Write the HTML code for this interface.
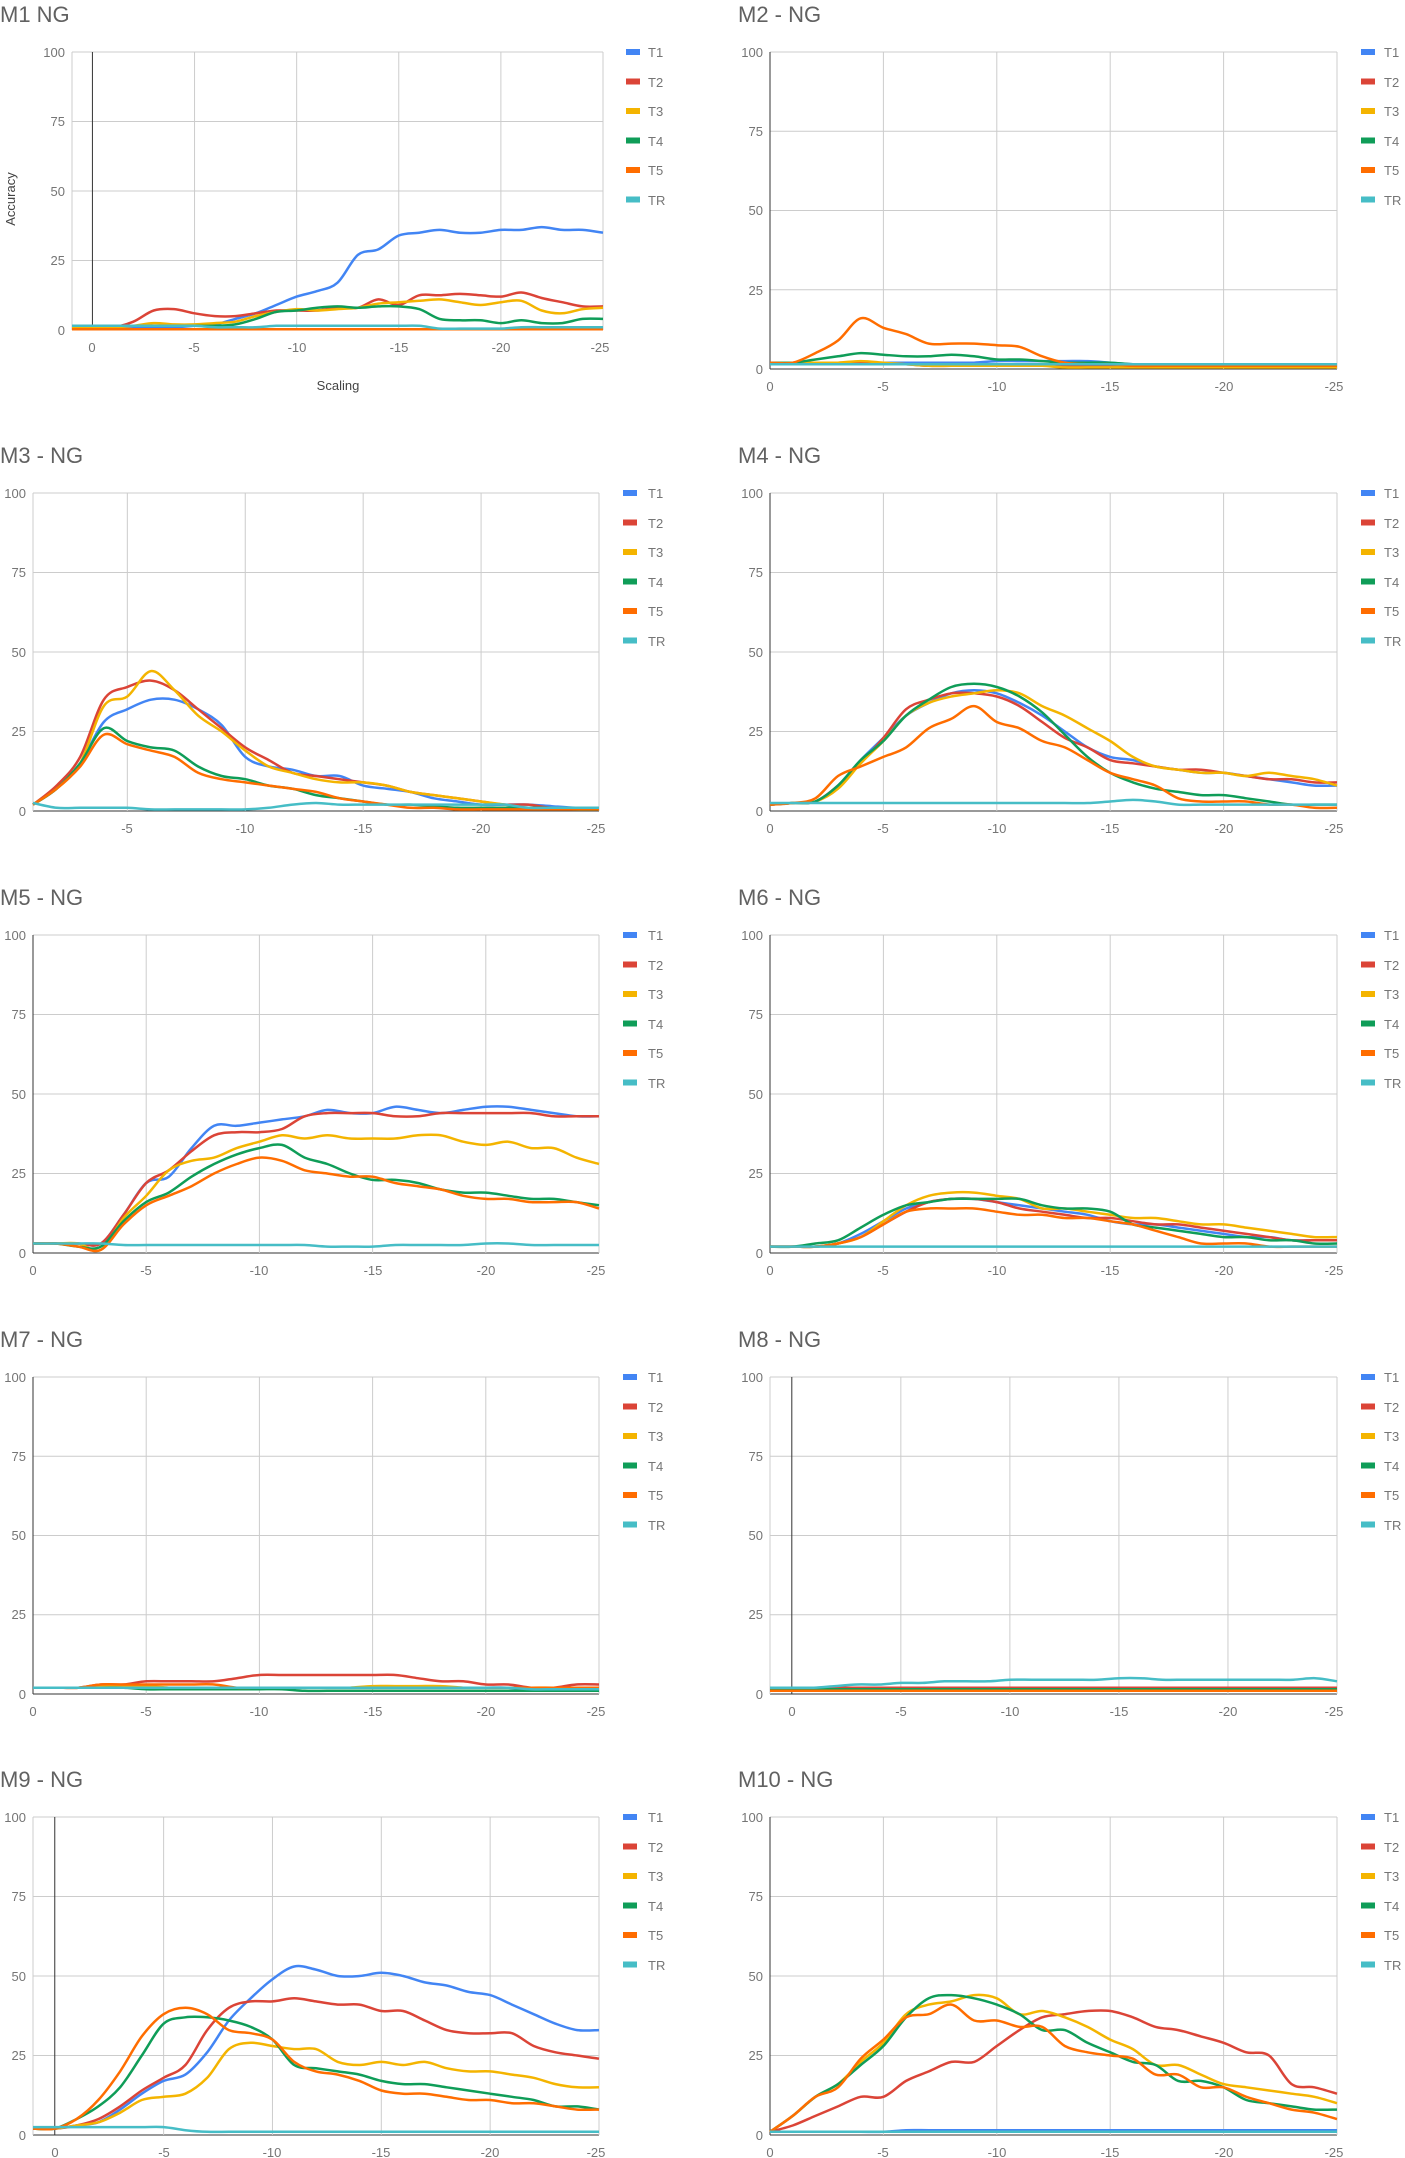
<!DOCTYPE html>
<html><head><meta charset="utf-8"><style>
html,body{margin:0;padding:0;background:#fff}
svg{display:block}
text{font-family:"Liberation Sans",sans-serif;fill:#757575}
.t{font-size:22px;fill:#616161}
.y{font-size:13px;text-anchor:end}
.x{font-size:13px;text-anchor:middle}
.l{font-size:13px}
</style></head><body>
<svg id="s" width="1405" height="2158" xmlns="http://www.w3.org/2000/svg">
<g id="grid"></g><g id="lines"></g>
<text class="t" x="0" y="22">M1 NG</text>
<text class="t" x="738" y="22">M2 - NG</text>
<text class="t" x="0" y="463">M3 - NG</text>
<text class="t" x="738" y="463">M4 - NG</text>
<text class="t" x="0" y="905">M5 - NG</text>
<text class="t" x="738" y="905">M6 - NG</text>
<text class="t" x="0" y="1347">M7 - NG</text>
<text class="t" x="738" y="1347">M8 - NG</text>
<text class="t" x="0" y="1787">M9 - NG</text>
<text class="t" x="738" y="1787">M10 - NG</text>
<text x="338" y="390" style="font-size:13px;text-anchor:middle;fill:#444">Scaling</text>
<text transform="translate(15,199) rotate(-90)" style="font-size:13px;text-anchor:middle;fill:#444">Accuracy</text>
<g class="yl">
<text class="y" x="65" y="57">100</text><text class="y" x="65" y="126">75</text><text class="y" x="65" y="196">50</text><text class="y" x="65" y="265">25</text><text class="y" x="65" y="335">0</text>
<text class="y" x="763" y="57">100</text><text class="y" x="763" y="136">75</text><text class="y" x="763" y="215">50</text><text class="y" x="763" y="295">25</text><text class="y" x="763" y="374">0</text>
<text class="y" x="26" y="498">100</text><text class="y" x="26" y="577">75</text><text class="y" x="26" y="657">50</text><text class="y" x="26" y="736">25</text><text class="y" x="26" y="816">0</text>
<text class="y" x="763" y="498">100</text><text class="y" x="763" y="577">75</text><text class="y" x="763" y="657">50</text><text class="y" x="763" y="736">25</text><text class="y" x="763" y="816">0</text>
<text class="y" x="26" y="940">100</text><text class="y" x="26" y="1019">75</text><text class="y" x="26" y="1099">50</text><text class="y" x="26" y="1178">25</text><text class="y" x="26" y="1258">0</text>
<text class="y" x="763" y="940">100</text><text class="y" x="763" y="1019">75</text><text class="y" x="763" y="1099">50</text><text class="y" x="763" y="1178">25</text><text class="y" x="763" y="1258">0</text>
<text class="y" x="26" y="1382">100</text><text class="y" x="26" y="1461">75</text><text class="y" x="26" y="1540">50</text><text class="y" x="26" y="1619">25</text><text class="y" x="26" y="1699">0</text>
<text class="y" x="763" y="1382">100</text><text class="y" x="763" y="1461">75</text><text class="y" x="763" y="1540">50</text><text class="y" x="763" y="1619">25</text><text class="y" x="763" y="1699">0</text>
<text class="y" x="26" y="1822">100</text><text class="y" x="26" y="1901">75</text><text class="y" x="26" y="1981">50</text><text class="y" x="26" y="2060">25</text><text class="y" x="26" y="2140">0</text>
<text class="y" x="763" y="1822">100</text><text class="y" x="763" y="1901">75</text><text class="y" x="763" y="1981">50</text><text class="y" x="763" y="2060">25</text><text class="y" x="763" y="2140">0</text>
</g>
<text class="x" x="92" y="352">0</text><text class="x" x="194" y="352">-5</text><text class="x" x="297" y="352">-10</text><text class="x" x="399" y="352">-15</text><text class="x" x="501" y="352">-20</text><text class="x" x="600" y="352">-25</text>
<text class="x" x="770" y="391">0</text><text class="x" x="883" y="391">-5</text><text class="x" x="997" y="391">-10</text><text class="x" x="1110" y="391">-15</text><text class="x" x="1224" y="391">-20</text><text class="x" x="1334" y="391">-25</text>
<text class="x" x="127" y="833">-5</text><text class="x" x="245" y="833">-10</text><text class="x" x="363" y="833">-15</text><text class="x" x="481" y="833">-20</text><text class="x" x="596" y="833">-25</text>
<text class="x" x="770" y="833">0</text><text class="x" x="883" y="833">-5</text><text class="x" x="997" y="833">-10</text><text class="x" x="1110" y="833">-15</text><text class="x" x="1224" y="833">-20</text><text class="x" x="1334" y="833">-25</text>
<text class="x" x="33" y="1275">0</text><text class="x" x="146" y="1275">-5</text><text class="x" x="259" y="1275">-10</text><text class="x" x="373" y="1275">-15</text><text class="x" x="486" y="1275">-20</text><text class="x" x="596" y="1275">-25</text>
<text class="x" x="770" y="1275">0</text><text class="x" x="883" y="1275">-5</text><text class="x" x="997" y="1275">-10</text><text class="x" x="1110" y="1275">-15</text><text class="x" x="1224" y="1275">-20</text><text class="x" x="1334" y="1275">-25</text>
<text class="x" x="33" y="1716">0</text><text class="x" x="146" y="1716">-5</text><text class="x" x="259" y="1716">-10</text><text class="x" x="373" y="1716">-15</text><text class="x" x="486" y="1716">-20</text><text class="x" x="596" y="1716">-25</text>
<text class="x" x="792" y="1716">0</text><text class="x" x="901" y="1716">-5</text><text class="x" x="1010" y="1716">-10</text><text class="x" x="1119" y="1716">-15</text><text class="x" x="1228" y="1716">-20</text><text class="x" x="1334" y="1716">-25</text>
<text class="x" x="55" y="2157">0</text><text class="x" x="164" y="2157">-5</text><text class="x" x="272" y="2157">-10</text><text class="x" x="381" y="2157">-15</text><text class="x" x="490" y="2157">-20</text><text class="x" x="596" y="2157">-25</text>
<text class="x" x="770" y="2157">0</text><text class="x" x="883" y="2157">-5</text><text class="x" x="997" y="2157">-10</text><text class="x" x="1110" y="2157">-15</text><text class="x" x="1224" y="2157">-20</text><text class="x" x="1334" y="2157">-25</text>
<g id="leg">
<text class="l" x="648" y="57">T1</text><text class="l" x="648" y="87">T2</text><text class="l" x="648" y="116">T3</text><text class="l" x="648" y="146">T4</text><text class="l" x="648" y="175">T5</text><text class="l" x="648" y="205">TR</text>
<text class="l" x="1384" y="57">T1</text><text class="l" x="1384" y="87">T2</text><text class="l" x="1384" y="116">T3</text><text class="l" x="1384" y="146">T4</text><text class="l" x="1384" y="175">T5</text><text class="l" x="1384" y="205">TR</text>
<text class="l" x="648" y="498">T1</text><text class="l" x="648" y="528">T2</text><text class="l" x="648" y="557">T3</text><text class="l" x="648" y="587">T4</text><text class="l" x="648" y="616">T5</text><text class="l" x="648" y="646">TR</text>
<text class="l" x="1384" y="498">T1</text><text class="l" x="1384" y="528">T2</text><text class="l" x="1384" y="557">T3</text><text class="l" x="1384" y="587">T4</text><text class="l" x="1384" y="616">T5</text><text class="l" x="1384" y="646">TR</text>
<text class="l" x="648" y="940">T1</text><text class="l" x="648" y="970">T2</text><text class="l" x="648" y="999">T3</text><text class="l" x="648" y="1029">T4</text><text class="l" x="648" y="1058">T5</text><text class="l" x="648" y="1088">TR</text>
<text class="l" x="1384" y="940">T1</text><text class="l" x="1384" y="970">T2</text><text class="l" x="1384" y="999">T3</text><text class="l" x="1384" y="1029">T4</text><text class="l" x="1384" y="1058">T5</text><text class="l" x="1384" y="1088">TR</text>
<text class="l" x="648" y="1382">T1</text><text class="l" x="648" y="1412">T2</text><text class="l" x="648" y="1441">T3</text><text class="l" x="648" y="1471">T4</text><text class="l" x="648" y="1500">T5</text><text class="l" x="648" y="1530">TR</text>
<text class="l" x="1384" y="1382">T1</text><text class="l" x="1384" y="1412">T2</text><text class="l" x="1384" y="1441">T3</text><text class="l" x="1384" y="1471">T4</text><text class="l" x="1384" y="1500">T5</text><text class="l" x="1384" y="1530">TR</text>
<text class="l" x="648" y="1822">T1</text><text class="l" x="648" y="1852">T2</text><text class="l" x="648" y="1881">T3</text><text class="l" x="648" y="1911">T4</text><text class="l" x="648" y="1940">T5</text><text class="l" x="648" y="1970">TR</text>
<text class="l" x="1384" y="1822">T1</text><text class="l" x="1384" y="1852">T2</text><text class="l" x="1384" y="1881">T3</text><text class="l" x="1384" y="1911">T4</text><text class="l" x="1384" y="1940">T5</text><text class="l" x="1384" y="1970">TR</text>
</g>
</svg>
<script>
var C=["#4285f4","#db4437","#f4b400","#0f9d58","#ff6d00","#46bdc6"];
var NS="http://www.w3.org/2000/svg";
function el(p,t,a){var e=document.createElementNS(NS,t);for(var k in a)e.setAttribute(k,a[k]);p.appendChild(e);return e;}
var P=[
{L:72,R:603,T:52,B:330,d:1,lx:626,d1:[
[1,1,1,1,1,1,1.5,2,4,6,9,12,14,17,27,29,34,35,36,35,35,36,36,37,36,36,35],
[1,1,1,3,7,7.5,6,5,5,6,7,7,7,8,8,11,9,12.5,12.5,13,12.5,12,13.5,11.5,10,8.5,8.5],
[1,1,1,1.5,2.5,2,2,2.5,3,5,6.5,7.5,7,7.5,8,9.5,10,10.5,11,10,9,10,10.5,7,6,7.5,8],
[1.5,1.5,1.5,1.5,1.5,1.5,1.5,1.5,2,4,6.5,7,8,8.5,8,8.5,8.5,7.5,4,3.5,3.5,2.5,3.5,2.5,2.5,4,4],
[0.3,0.3,0.3,0.3,0.3,0.3,0.3,0.3,0.3,0.3,0.3,0.3,0.3,0.3,0.3,0.3,0.3,0.3,0.3,0.3,0.3,0.3,0.3,0.3,0.3,0.3,0.3],
[1.5,1.5,1.5,1.5,1.5,1.5,1.5,1,1,1,1.5,1.5,1.5,1.5,1.5,1.5,1.5,1.5,0.5,0.5,0.5,0.5,1,1,1,1,1]]},
{L:770,R:1337,T:52,B:369,d:0,lx:1361,d1:[
[2,2,2,2,2,2,2,2,2,2,2.5,2.5,2.5,2.5,2.5,2,1.5,1.5,1.5,1.5,1.5,1.5,1.5,1.5,1.5,1.5],
[2,2,2,2,2,1.5,1.5,1,1,1,1,1,1,1,1,1,1,1,1,1,1,1,1,1,1,1],
[2,2,2,2,2.5,2,1.5,1,1,1,1,1,1,0.5,0.5,0.5,0.5,0.5,0.5,0.5,0.5,0.5,0.5,0.5,0.5,0.5],
[2,2,3,4,5,4.5,4,4,4.5,4,3,3,2.5,2,2,2,1.5,1.5,1.5,1.5,1.5,1.5,1.5,1.5,1.5,1.5],
[2,2,5,9,16,13,11,8,8,8,7.5,7,4,2,1.5,1.5,1,1,1,1,1,1,1,1,1,1],
[1.5,1.5,1.5,1.5,1.5,1.5,1.5,1.5,1.5,1.5,1.5,1.5,1.5,1.5,1.5,1.5,1.5,1.5,1.5,1.5,1.5,1.5,1.5,1.5,1.5,1.5]]},
{L:33,R:599,T:493,B:811,d:-1,lx:623,d1:[
[2,7,15,28,32,35,35,32,27,17,14,13,11,11,8,7,6,4,3,2,2,2,1.5,1,1],
[2,8,17,35,39,41,38,32,26,20,16,12,11,10,9,8,6,5,4,3,2,2,1,1,1],
[2,7,15,33,36,44,38,30,25,19,14,12,10,9,9,8,6,5,4,3,2,1,1,1,1],
[2,7,15,26,22,20,19,14,11,10,8,7,5,4,3,2,2,1.5,1,1,1,1,1,0.5,0.5],
[2,7,14,24,21,19,17,12,10,9,8,7,6,4,3,2,1,1,0.5,0.5,0.5,0.5,0.5,0.5,0.5],
[2.5,1,1,1,1,0.5,0.5,0.5,0.5,0.5,1,2,2.5,2,2,2,2,2,2,2,2,1,1,1,1]]},
{L:770,R:1337,T:493,B:811,d:0,lx:1361,d1:[
[2,2.5,3,8,16,23,30,34,37,38,37,34,30,25,20,17,16,14,13,12,12,11,10,9,8,8],
[2,2.5,3,8,15,23,32,35,37,37,36,33,28,23,20,16,15,14,13,13,12,11,10,10,9,9],
[2,2.5,3,7,15,22,30,34,36,37,38,37,33,30,26,22,17,14,13,12,12,11,12,11,10,8],
[2,2.5,3,8,16,22,30,35,39,40,39,36,31,24,17,12,9,7,6,5,5,4,3,2,2,2],
[2,2.5,4,11,14,17,20,26,29,33,28,26,22,20,16,12,10,8,4,3,3,3,2,2,1,1],
[2.5,2.5,2.5,2.5,2.5,2.5,2.5,2.5,2.5,2.5,2.5,2.5,2.5,2.5,2.5,3,3.5,3,2,2,2,2,2,2,2,2]]},
{L:33,R:599,T:935,B:1253,d:0,lx:623,d1:[
[3,3,3,3,12,22,24,33,40,40,41,42,43,45,44,44,46,45,44,45,46,46,45,44,43,43],
[3,3,3,3,12,22,26,32,37,38,38,39,43,44,44,44,43,43,44,44,44,44,44,43,43,43],
[3,3,3,1,11,18,26,29,30,33,35,37,36,37,36,36,36,37,37,35,34,35,33,33,30,28],
[3,3,2,2,10,16,19,24,28,31,33,34,30,28,25,23,23,22,20,19,19,18,17,17,16,15],
[3,3,2,1,9,15,18,21,25,28,30,29,26,25,24,24,22,21,20,18,17,17,16,16,16,14],
[3,3,3,3,2.5,2.5,2.5,2.5,2.5,2.5,2.5,2.5,2.5,2,2,2,2.5,2.5,2.5,2.5,3,3,2.5,2.5,2.5,2.5]]},
{L:770,R:1337,T:935,B:1253,d:0,lx:1361,d1:[
[2,2,2,3,6,10,14,16,17,17,16,15,14,13,12,10,9,9,8,7,6,5,5,4,4,4],
[2,2,2,3,5,9,13,16,17,17,16,14,13,12,11,11,10,9,9,8,7,6,5,4,4,4],
[2,2,2,3,5,10,15,18,19,19,18,17,14,14,13,12,11,11,10,9,9,8,7,6,5,5],
[2,2,3,4,8,12,15,16,17,17,17,17,15,14,14,13,9,8,7,6,5,5,4,4,3,3],
[2,2,2,3,5,9,13,14,14,14,13,12,12,11,11,10,9,7,5,3,3,3,2,2,2,2],
[2,2,2,2,2,2,2,2,2,2,2,2,2,2,2,2,2,2,2,2,2,2,2,2,2,2]]},
{L:33,R:599,T:1377,B:1694,d:0,lx:623,d1:[
[2,2,2,2,2,2,2,2,2,2,2,2,2,2,2,2,2,2,2,2,2,2,1.5,1.5,1.5,1.5],
[2,2,2,3,3,4,4,4,4,5,6,6,6,6,6,6,6,5,4,4,3,3,2,2,3,3],
[2,2,2,2.5,2.5,2.5,2,2,2,2,2,2,2,2,2,2.5,2.5,2.5,2.5,2,2,2,2,2,1.5,1.5],
[2,2,2,2,2,1.5,1.5,1.5,1.5,1.5,1.5,1.5,1,1,1,1,1,1,1,1,1,1,1,1,1,1],
[2,2,2,3,3,3,3,3,3,2,2,2,2,2,2,2,2,2,2,2,2,2,2,2,2,2],
[2,2,2,2,2,2,2,2,2,2,2,2,2,2,2,2,2,2,2,2,2,2,1.5,1.5,1.5,1.5]]},
{L:770,R:1337,T:1377,B:1694,d:1,lx:1361,d1:[
[1.5,1.5,1.5,1.5,1.5,1.5,1.5,1.5,1.5,1.5,1.5,1.5,1.5,1.5,1.5,1.5,1.5,1.5,1.5,1.5,1.5,1.5,1.5,1.5,1.5,1.5,1.5],
[2,2,2,2,2,2,2,2,2,2,2,2,2,2,2,2,2,2,2,2,2,2,2,2,2,2,2],
[1,1,1,1,1,1,1,1,1,1,1,1,1,1,1,1,1,1,1,1,1,1,1,1,1,1,1],
[1.5,1.5,1.5,1.5,1.5,1.5,1.5,1.5,1.5,1.5,1.5,1.5,1.5,1.5,1.5,1.5,1.5,1.5,1.5,1.5,1.5,1.5,1.5,1.5,1.5,1.5,1.5],
[1,1,1,1,1,1,1,1,1,1,1,1,1,1,1,1,1,1,1,1,1,1,1,1,1,1,1],
[2,2,2,2.5,3,3,3.5,3.5,4,4,4,4.5,4.5,4.5,4.5,4.5,5,5,4.5,4.5,4.5,4.5,4.5,4.5,4.5,5,4]]},
{L:33,R:599,T:1817,B:2135,d:1,lx:623,d1:[
[2,2,3,4,8,13,17,19,26,36,43,49,53,52,50,50,51,50,48,47,45,44,41,38,35,33,33],
[2,2,3,5,9,14,18,22,33,40,42,42,43,42,41,41,39,39,36,33,32,32,32,28,26,25,24],
[2,2,3,4,7,11,12,13,18,27,29,28,27,27,23,22,23,22,23,21,20,20,19,18,16,15,15],
[2,2,5,9,15,25,35,37,37,36,34,30,22,21,20,19,17,16,16,15,14,13,12,11,9,9,8],
[2,2,5,11,20,31,38,40,38,33,32,30,23,20,19,17,14,13,13,12,11,11,10,10,9,8,8],
[2.5,2.5,2.5,2.5,2.5,2.5,2.5,1.5,1,1,1,1,1,1,1,1,1,1,1,1,1,1,1,1,1,1,1]]},
{L:770,R:1337,T:1817,B:2135,d:0,lx:1361,d1:[
[1,1,1,1,1,1,1.5,1.5,1.5,1.5,1.5,1.5,1.5,1.5,1.5,1.5,1.5,1.5,1.5,1.5,1.5,1.5,1.5,1.5,1.5,1.5],
[1,3,6,9,12,12,17,20,23,23,28,33,37,38,39,39,37,34,33,31,29,26,25,16,15,13],
[1,6,12,16,23,29,38,41,42,44,43,38,39,37,34,30,27,22,22,19,16,15,14,13,12,10],
[1,6,12,16,22,28,37,43,44,43,41,38,33,33,29,26,23,22,17,17,15,11,10,9,8,8],
[1,6,12,15,24,30,37,38,41,36,36,34,34,28,26,25,24,19,19,15,15,12,10,8,7,5],
[1,1,1,1,1,1,1,1,1,1,1,1,1,1,1,1,1,1,1,1,1,1,1,1,1,1]]}
];
var g=document.getElementById("grid"),ln=document.getElementById("lines");
P.forEach(function(p){
  var span=p.d+25,w=p.R-p.L,h=p.B-p.T;
  function X(v){return p.L+(p.d-v)/span*w;}
  function Y(v){return p.B-v/100*h;}
  for(var k=0;k<=4;k++){var y=p.T+k*h/4;el(g,"line",{x1:p.L,x2:p.R,y1:y,y2:y,stroke:k==4?"#333":"#ccc","stroke-width":1});}
  for(var v=0;v>=-25;v-=5){if(v>p.d)continue;var x=X(v);el(g,"line",{x1:x,x2:x,y1:p.T,y2:p.B,stroke:v==0?"#333":"#ccc","stroke-width":1});}
  if(p.d!=0)el(g,"line",{x1:p.L,x2:p.L,y1:p.T,y2:p.B,stroke:"#ccc","stroke-width":1});
  p.d1.forEach(function(arr,i){
    var pts=arr.map(function(v,j){return [X(p.d-j),Y(v)];});
    var d="M"+pts[0][0].toFixed(1)+","+pts[0][1].toFixed(1);
    for(var j=0;j<pts.length-1;j++){
      var p0=pts[Math.max(j-1,0)],p1=pts[j],p2=pts[j+1],p3=pts[Math.min(j+2,pts.length-1)];
      var c1x=p1[0]+(p2[0]-p0[0])/6,c1y=p1[1]+(p2[1]-p0[1])/6,c2x=p2[0]-(p3[0]-p1[0])/6,c2y=p2[1]-(p3[1]-p1[1])/6;
      d+="C"+c1x.toFixed(1)+","+c1y.toFixed(1)+" "+c2x.toFixed(1)+","+c2y.toFixed(1)+" "+p2[0].toFixed(1)+","+p2[1].toFixed(1);
    }
    el(ln,"path",{d:d,fill:"none",stroke:C[i],"stroke-width":2.5,"stroke-linejoin":"round"});
    el(ln,"rect",{x:p.lx,y:p.T-3+i*29.5,width:14,height:6,fill:C[i]});
  });
});
</script>
</body></html>
